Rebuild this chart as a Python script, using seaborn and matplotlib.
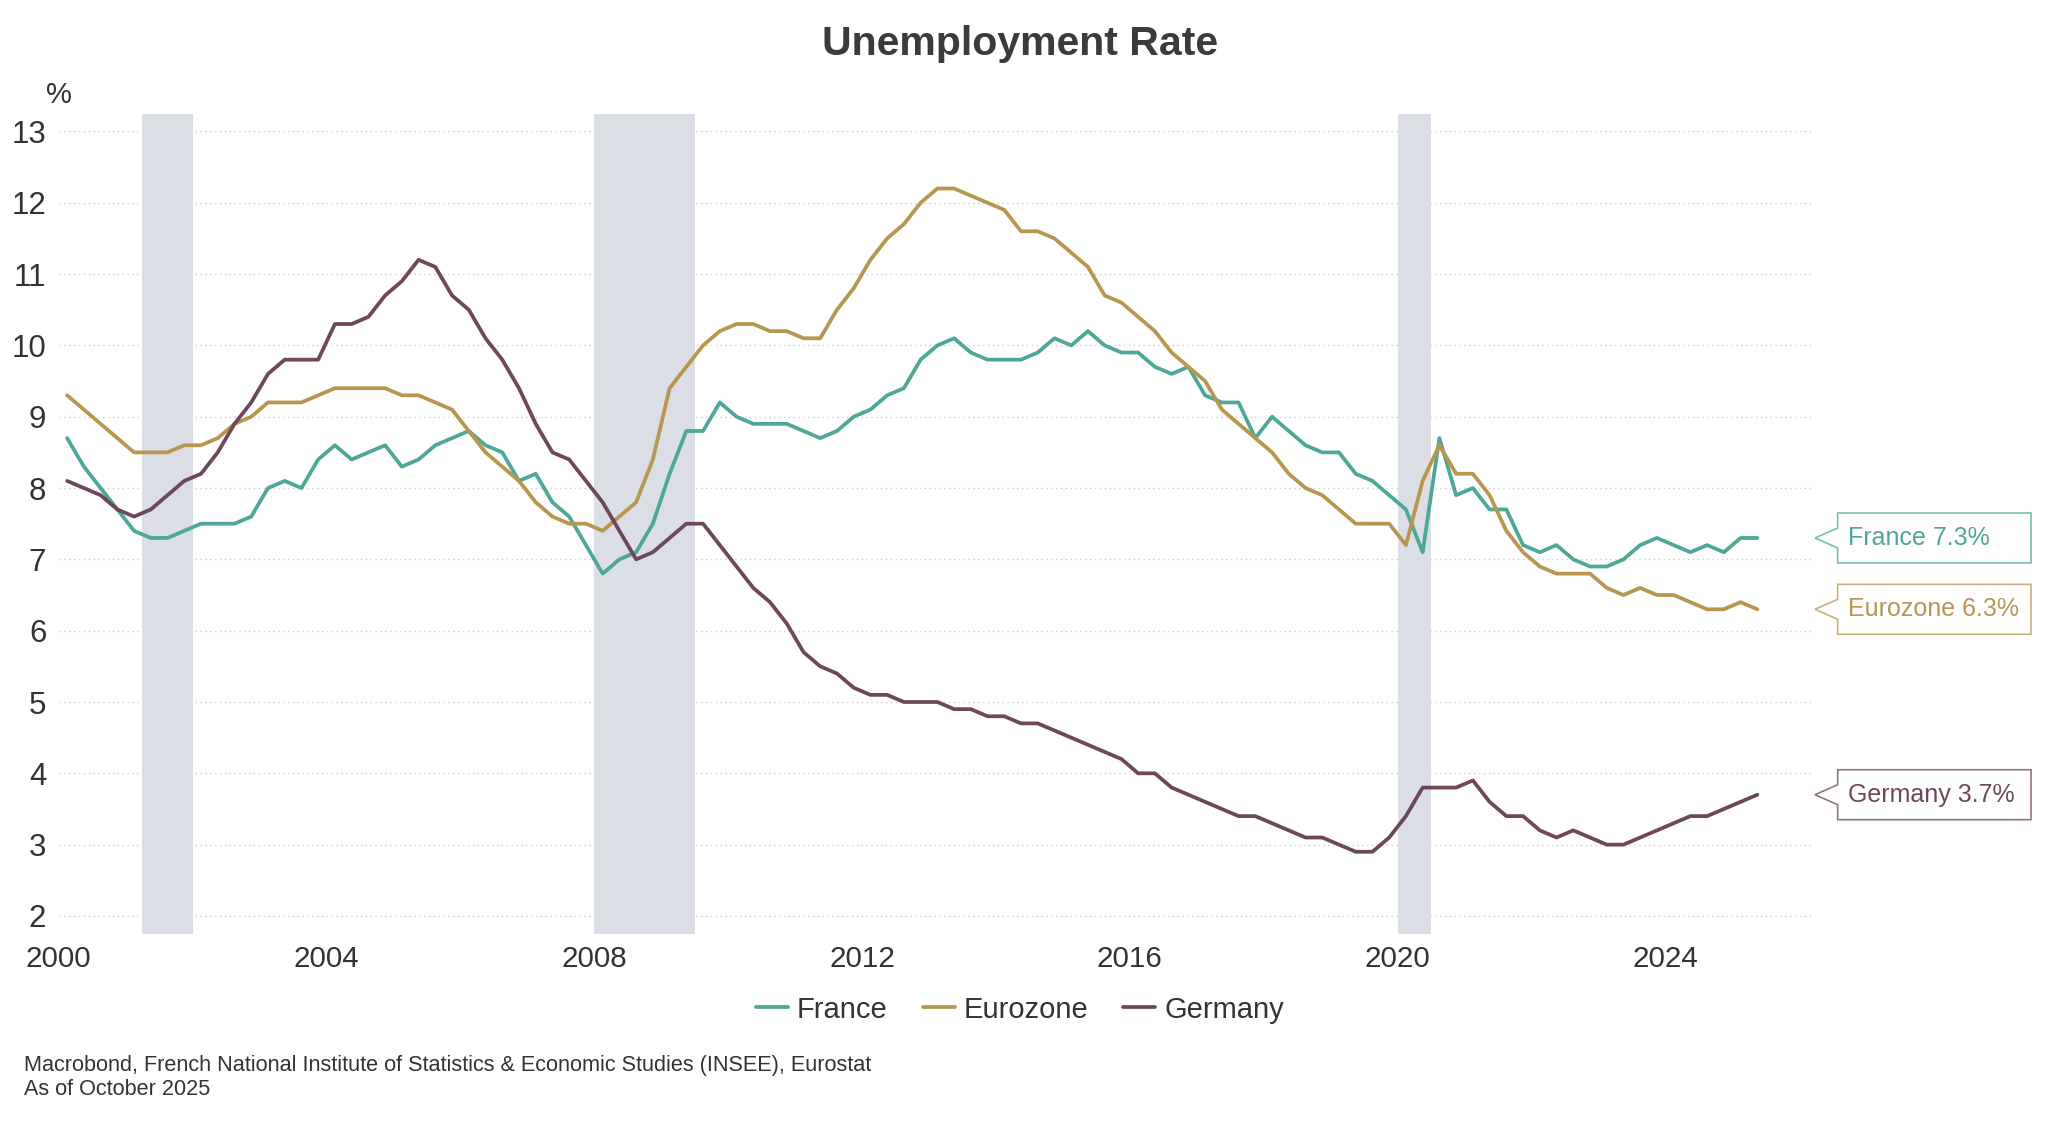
import numpy as np
import pandas as pd
import matplotlib
matplotlib.use('Agg')
import matplotlib.pyplot as plt
import matplotlib.transforms as mtransforms
from matplotlib.patches import Polygon
import seaborn as sns

# quarterly unemployment rate, %, 2000Q1 .. 2025Q2
france = [8.7, 8.3, 8.0, 7.7, 7.4, 7.3, 7.3, 7.4, 7.5, 7.5, 7.5, 7.6,
          8.0, 8.1, 8.0, 8.4, 8.6, 8.4, 8.5, 8.6, 8.3, 8.4, 8.6, 8.7,
          8.8, 8.6, 8.5, 8.1, 8.2, 7.8, 7.6, 7.2, 6.8, 7.0, 7.1, 7.5,
          8.2, 8.8, 8.8, 9.2, 9.0, 8.9, 8.9, 8.9, 8.8, 8.7, 8.8, 9.0,
          9.1, 9.3, 9.4, 9.8, 10.0, 10.1, 9.9, 9.8, 9.8, 9.8, 9.9, 10.1,
          10.0, 10.2, 10.0, 9.9, 9.9, 9.7, 9.6, 9.7, 9.3, 9.2, 9.2, 8.7,
          9.0, 8.8, 8.6, 8.5, 8.5, 8.2, 8.1, 7.9, 7.7, 7.1, 8.7, 7.9,
          8.0, 7.7, 7.7, 7.2, 7.1, 7.2, 7.0, 6.9, 6.9, 7.0, 7.2, 7.3,
          7.2, 7.1, 7.2, 7.1, 7.3, 7.3]
eurozone = [9.3, 9.1, 8.9, 8.7, 8.5, 8.5, 8.5, 8.6, 8.6, 8.7, 8.9, 9.0,
            9.2, 9.2, 9.2, 9.3, 9.4, 9.4, 9.4, 9.4, 9.3, 9.3, 9.2, 9.1,
            8.8, 8.5, 8.3, 8.1, 7.8, 7.6, 7.5, 7.5, 7.4, 7.6, 7.8, 8.4,
            9.4, 9.7, 10.0, 10.2, 10.3, 10.3, 10.2, 10.2, 10.1, 10.1, 10.5, 10.8,
            11.2, 11.5, 11.7, 12.0, 12.2, 12.2, 12.1, 12.0, 11.9, 11.6, 11.6, 11.5,
            11.3, 11.1, 10.7, 10.6, 10.4, 10.2, 9.9, 9.7, 9.5, 9.1, 8.9, 8.7,
            8.5, 8.2, 8.0, 7.9, 7.7, 7.5, 7.5, 7.5, 7.2, 8.1, 8.6, 8.2,
            8.2, 7.9, 7.4, 7.1, 6.9, 6.8, 6.8, 6.8, 6.6, 6.5, 6.6, 6.5,
            6.5, 6.4, 6.3, 6.3, 6.4, 6.3]
germany = [8.1, 8.0, 7.9, 7.7, 7.6, 7.7, 7.9, 8.1, 8.2, 8.5, 8.9, 9.2,
           9.6, 9.8, 9.8, 9.8, 10.3, 10.3, 10.4, 10.7, 10.9, 11.2, 11.1, 10.7,
           10.5, 10.1, 9.8, 9.4, 8.9, 8.5, 8.4, 8.1, 7.8, 7.4, 7.0, 7.1,
           7.3, 7.5, 7.5, 7.2, 6.9, 6.6, 6.4, 6.1, 5.7, 5.5, 5.4, 5.2,
           5.1, 5.1, 5.0, 5.0, 5.0, 4.9, 4.9, 4.8, 4.8, 4.7, 4.7, 4.6,
           4.5, 4.4, 4.3, 4.2, 4.0, 4.0, 3.8, 3.7, 3.6, 3.5, 3.4, 3.4,
           3.3, 3.2, 3.1, 3.1, 3.0, 2.9, 2.9, 3.1, 3.4, 3.8, 3.8, 3.8,
           3.9, 3.6, 3.4, 3.4, 3.2, 3.1, 3.2, 3.1, 3.0, 3.0, 3.1, 3.2,
           3.3, 3.4, 3.4, 3.5, 3.6, 3.7]

quarters = pd.period_range('2000Q1', '2025Q2', freq='Q')
recessions = [(2001.25, 2002.0), (2008.0, 2009.5), (2020.0, 2020.5)]
series_names = ['France', 'Eurozone', 'Germany']
colors = ['#4ea797', '#b8964f', '#6d475c']
year_ticks = list(range(2000, 2025, 4))
y_ticks = list(range(2, 14))
title = 'Unemployment Rate'
source_note = 'Macrobond, French National Institute of Statistics & Economic Studies (INSEE), Eurostat'
date_note = 'As of October 2025'


def main():
    sns.set_theme(style='white')
    plt.rcParams['font.family'] = ['Liberation Sans', 'DejaVu Sans']

    # plot quarters at their mid point
    x = quarters.year + (quarters.quarter - 0.5) / 4
    wide = pd.DataFrame({'date': x, 'France': france, 'Eurozone': eurozone, 'Germany': germany})
    df = wide.melt(id_vars='date', var_name='series', value_name='rate')
    palette = dict(zip(series_names, colors))

    fig = plt.figure(figsize=(20.48, 11.26), dpi=100)
    ax = fig.add_axes([0.0287, 0.1707, 0.857, 0.7284])

    for start, end in recessions:
        ax.axvspan(start, end, color='#dbdee5', lw=0, zorder=1)

    sns.lineplot(data=df, x='date', y='rate', hue='series', hue_order=series_names,
                 palette=palette, linewidth=2.7, ax=ax, zorder=3)

    ax.set_xlim(2000, 2026.22)
    ax.set_ylim(1.75, 13.25)
    ax.set_xticks(year_ticks)
    ax.set_yticks(y_ticks)
    ax.tick_params(axis='both', length=0, colors='#333333')
    ax.tick_params(axis='x', pad=8, labelsize=21.3)
    ax.tick_params(axis='y', pad=9, labelsize=22.5)
    ax.set_xlabel('')
    ax.set_ylabel('')
    ax.yaxis.grid(True, linestyle=(0, (1, 2.5)), color='#cfcfcf', linewidth=1)
    ax.xaxis.grid(False)
    ax.set_axisbelow(True)
    for s in ax.spines.values():
        s.set_visible(False)

    ax.text(0, 0.9155, '%', transform=mtransforms.blended_transform_factory(ax.transAxes, fig.transFigure),
            ha='center', va='center', fontsize=21, color='#333333')

    # end-of-line value tags
    trans = mtransforms.blended_transform_factory(fig.transFigure, ax.transData)
    tip, left, right, h, t = 0.8862, 0.8973, 0.9917, 0.35, 0.14
    for name, vals, col in zip(series_names, [france, eurozone, germany], colors):
        last = vals[-1]
        pts = [(left, last + t), (left, last + h), (right, last + h), (right, last - h),
               (left, last - h), (left, last - t), (tip, last)]
        tag = Polygon(pts, closed=True, transform=trans, facecolor='white',
                      edgecolor=col, alpha=0.75, lw=1.2, clip_on=False, zorder=5)
        ax.add_patch(tag)
        ax.text(0.9024, last, f'{name} {last:.1f}%', transform=trans, ha='left', va='center',
                fontsize=18, color=col, zorder=6, clip_on=False)

    handles, labels = ax.get_legend_handles_labels()
    ax.legend(handles, labels, loc='center', bbox_to_anchor=(0.498, 0.1034),
              bbox_transform=fig.transFigure, ncol=3, frameon=False, fontsize=21,
              handlelength=1.1, handletextpad=0.3, columnspacing=1.2)
    for txt in ax.get_legend().get_texts():
        txt.set_color('#333333')

    fig.text(0.498, 0.9605, title, ha='center', va='center', fontsize=29.5,
             fontweight='bold', color='#3b3b3b')
    fig.text(0.0115, 0.0540, source_note, ha='left', va='center', fontsize=15.6, color='#333333')
    fig.text(0.0115, 0.0320, date_note, ha='left', va='center', fontsize=15.6, color='#333333')

    fig.savefig('out.png', dpi=100)


if __name__ == '__main__':
    main()
